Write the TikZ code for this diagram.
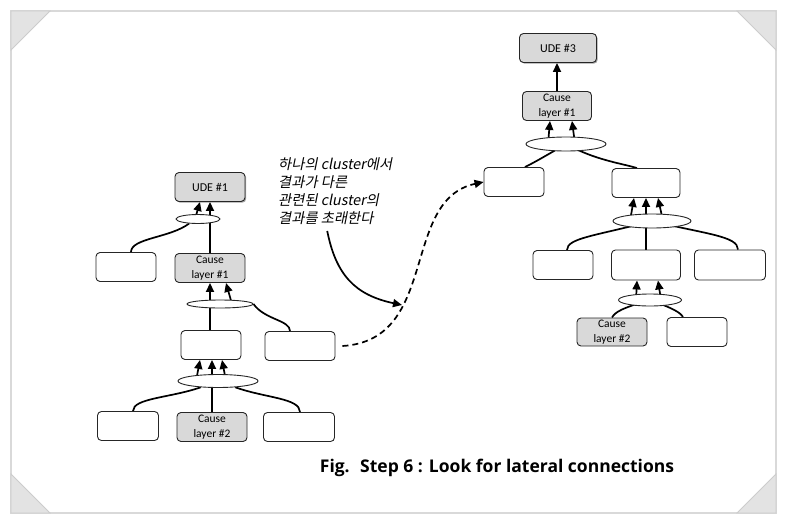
\documentclass[tikz,border=0pt]{standalone}
\usepackage{fontspec}
\setmainfont{Carlito}
\newfontfamily\krfont[FakeSlant=0.2]{Noto Sans CJK KR}
\newfontfamily\capfont{Open Sans}
\usetikzlibrary{arrows.meta, shapes.geometric, positioning, calc, backgrounds, shadows}

\begin{document}
\begin{tikzpicture}[x=1pt, y=-1pt,
  box/.style={rectangle, draw=black!85, rounded corners=4pt, minimum width=60pt,
              minimum height=29pt, inner sep=1pt, align=center, fill=white,
              font=\fontsize{11.5}{14.5}\selectfont, line width=0.9pt},
  cause/.style={box, fill=gray!30, minimum width=70pt},
  ude/.style={cause, font=\fontsize{12}{14}\selectfont,
              drop shadow={shadow xshift=1.2pt, shadow yshift=-1.2pt, fill=black!60, opacity=0.6}},
  junc/.style={ellipse, draw=black!85, fill=white, inner sep=0pt, line width=0.9pt},
  arr/.style={-{Triangle[length=9pt, width=8pt]}, line width=1.7pt},
  link/.style={line width=1.7pt},
  corner/.style={fill=gray!22, draw=gray!40, line width=0.8pt}
]
  \useasboundingbox (0,0) rectangle (787,525);
  \draw[gray!30, line width=1.2pt] (11,11) rectangle (776,513);
  \filldraw[corner] (11,11) -- (50,11) -- (11,50) -- cycle;
  \filldraw[corner] (776,11) -- (737,11) -- (776,50) -- cycle;
  \filldraw[corner] (11,513) -- (50,513) -- (11,474) -- cycle;
  \filldraw[corner] (776,513) -- (737,513) -- (776,474) -- cycle;

  % left cluster
  \node[ude]   (U1) at (210,187) {UDE \#1};
  \node[junc, minimum width=44pt, minimum height=9pt] (E1) at (198,219) {};
  \node[box]   (B1) at (126,267) {};
  \node[cause] (C1) at (210,268) {Cause\\layer \#1};
  \node[junc, minimum width=66pt, minimum height=8pt] (E2) at (220,304) {};
  \node[box]   (M1) at (211,345) {};
  \node[box, minimum width=70pt] (R1) at (300,346) {};
  \node[junc, minimum width=80pt, minimum height=13pt] (E3) at (218,381) {};
  \node[box, minimum width=61pt] (B2) at (128,426) {};
  \node[cause] (C2) at (212,427) {Cause\\layer \#2};
  \node[box, minimum width=71pt] (B3) at (299,427) {};

  % right cluster
  \node[ude, minimum width=77pt] (V3) at (558,48) {UDE \#3};
  \node[cause, minimum width=69pt] (D1) at (557,106) {Cause\\layer \#1};
  \node[junc, minimum width=80pt, minimum height=14pt] (F1) at (566,144) {};
  \node[box]   (G1) at (514,182) {};
  \node[box, minimum width=68pt] (G2) at (646,183) {};
  \node[junc, minimum width=78pt, minimum height=14pt] (F2) at (652,221) {};
  \node[box]   (H1) at (563,265) {};
  \node[box, minimum width=69pt, minimum height=30pt] (H2) at (646,265) {};
  \node[box, minimum width=71pt, minimum height=30pt] (H3) at (730,265) {};
  \node[junc, minimum width=63pt, minimum height=12pt] (F3) at (650,300) {};
  \node[cause, minimum height=28pt] (K1) at (612,332) {Cause\\layer \#2};
  \node[box]   (K2) at (697,332) {};

  \node[font=\krfont\fontsize{14.3}{18.2}\selectfont, align=left, anchor=north west, inner sep=0pt]
    (T) at (278,157) {하나의 cluster에서\\결과가 다른\\관련된 cluster의\\결과를 초래한다};
  \coordinate (J) at (402,305);
  \node[font=\capfont\bfseries\fontsize{17.5}{20}\selectfont, inner sep=0pt] (CAP) at (497,468)
    {Fig.\hspace{0.6em}Step 6 : Look for lateral connections};

  \begin{scope}[on background layer]
    \draw[arr] ([xshift=-3pt]E1.center) -- ([xshift=-10pt]U1.south);
    \draw[arr] (C1.north) -- (C1.north |- U1.south);
    \draw[link] ([xshift=5pt]B1.north) .. controls (131,238) and (170,238) .. (E1.207);
    \draw[arr] (M1.north -| C1.north) -- (C1.south);
    \draw[arr] ([xshift=12pt]E2.center) -- ([xshift=16pt]C1.south);
    \draw[link] ([xshift=-10pt]R1.north) .. controls (290,320) and (265,320) .. (E2.east);
    \draw[arr] (C2.north) -- (C2.north |- M1.south);
    \draw[arr] ([xshift=-22pt]E3.center) -- ([xshift=-11pt]M1.south);
    \draw[arr] ([xshift=8pt]E3.center) -- ([xshift=11pt]M1.south);
    \draw[link] ([xshift=5pt]B2.north) .. controls (133,398) and (170,398) .. (E3.200);
    \draw[link] ([xshift=1pt]B3.north) .. controls (300,398) and (265,398) .. (E3.340);

    \draw[arr] (D1.north) -- (D1.north |- V3.south);
    \draw[arr] ([xshift=-18pt]F1.center) -- ([xshift=-7pt]D1.south);
    \draw[arr] ([xshift=9pt]F1.center) -- ([xshift=15pt]D1.south);
    \draw[link] ([xshift=11pt]G1.north) .. controls (535,162) and (542,158) .. (F1.center);
    \draw[link] ([xshift=-9pt]G2.north) .. controls (620,163) and (595,160) .. (F1.center);
    \draw[arr] (H2.north) -- (H2.north |- G2.south);
    \draw[arr] ([xshift=-22pt]F2.center) -- ([xshift=-12pt]G2.south);
    \draw[arr] ([xshift=11pt]F2.center) -- ([xshift=12pt]G2.south);
    \draw[link] ([xshift=4pt]H1.north) .. controls (567,238) and (595,236) .. (F2.center);
    \draw[link] ([xshift=8pt]H3.north) .. controls (738,236) and (705,234) .. (F2.center);
    \draw[arr] ([xshift=-14pt]F3.center) -- ([xshift=-9pt]H2.south);
    \draw[arr] ([xshift=11pt]F3.center) -- ([xshift=12pt]H2.south);
    \draw[link] (K1.north) .. controls (615,312) and (622,308) .. (F3.center);
    \draw[link] ([xshift=-14pt]K2.north) .. controls (680,312) and (672,308) .. (F3.center);
  \end{scope}

  \draw[arr] ([xshift=-8pt, yshift=-6pt]T.south) .. controls (336,275) and (355,295) .. (J);
  \draw[arr, dashed, dash pattern=on 6pt off 4pt] ([xshift=7pt]R1.east) .. controls (440,340) and (400,200) .. (G1.west);
\end{tikzpicture}
\end{document}
